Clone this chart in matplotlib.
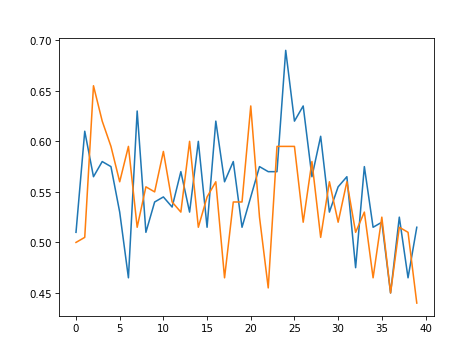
import matplotlib
matplotlib.use('Agg')
import matplotlib.pyplot as plt
import numpy as np

# Values (step 0.005)
blue = [0.51, 0.61, 0.565, 0.58, 0.575, 0.53, 0.465, 0.63, 0.51, 0.54,
        0.545, 0.535, 0.57, 0.53, 0.60, 0.515, 0.62, 0.56, 0.58, 0.515,
        0.545, 0.575, 0.57, 0.57, 0.69, 0.62, 0.635, 0.565, 0.605, 0.53,
        0.555, 0.565, 0.475, 0.575, 0.515, 0.52, 0.45, 0.525, 0.465, 0.515]
orange = [0.50, 0.505, 0.655, 0.62, 0.595, 0.56, 0.595, 0.515, 0.555, 0.55,
          0.59, 0.54, 0.53, 0.60, 0.515, 0.545, 0.56, 0.465, 0.54, 0.54,
          0.635, 0.525, 0.455, 0.595, 0.595, 0.595, 0.52, 0.58, 0.505, 0.56,
          0.52, 0.56, 0.51, 0.53, 0.465, 0.525, 0.45, 0.515, 0.51, 0.44]

fig, ax = plt.subplots(figsize=(6.4, 4.743), dpi=74)
fig.subplots_adjust(left=0.1245, right=0.916, bottom=0.0977, top=0.8897)

ax.plot(blue)
ax.plot(orange)

fig.savefig('out.png', dpi=74)
